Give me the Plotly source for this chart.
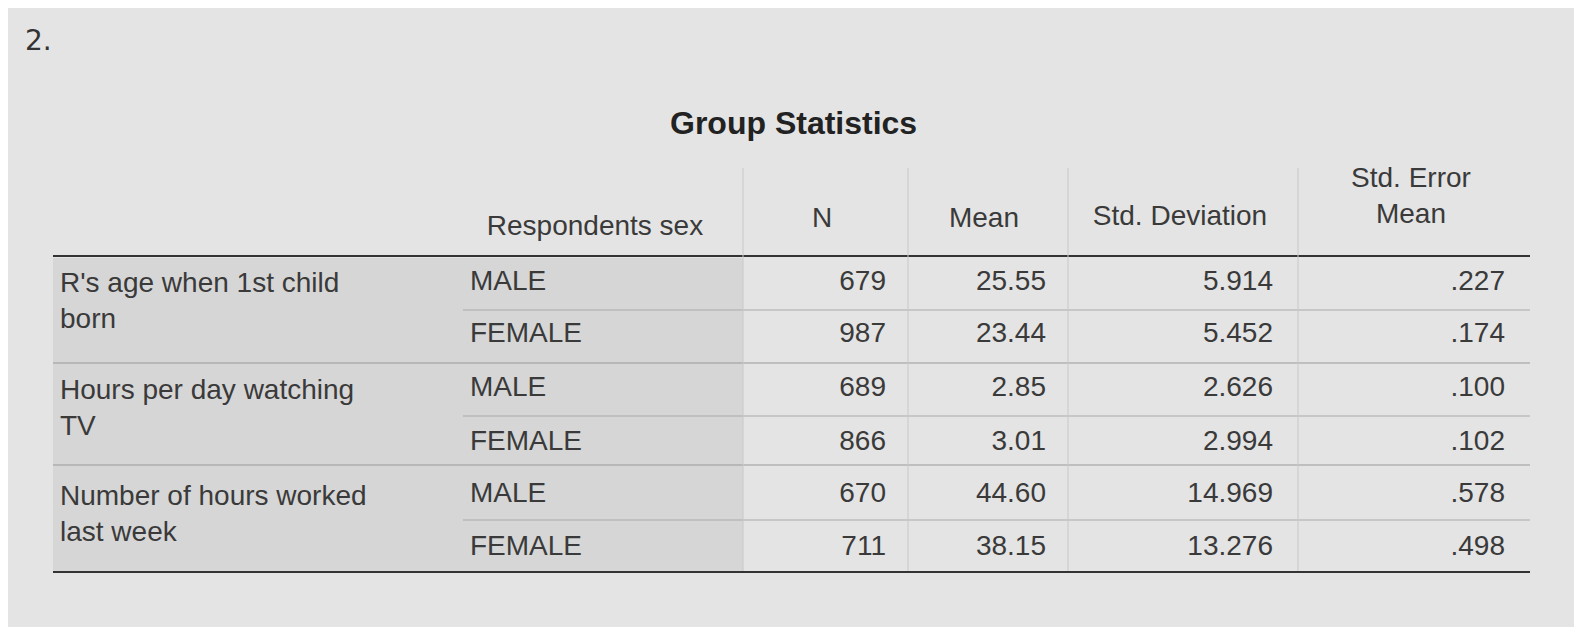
import plotly.graph_objects as go

variables = ["R's age when 1st child<br>born", "Hours per day watching<br>TV", "Number of hours worked<br>last week"]
sexes = ["MALE", "FEMALE", "MALE", "FEMALE", "MALE", "FEMALE"]
n_vals = ["679", "987", "689", "866", "670", "711"]
means = ["25.55", "23.44", "2.85", "3.01", "44.60", "38.15"]
std_devs = ["5.914", "5.452", "2.626", "2.994", "14.969", "13.276"]
se_means = [".227", ".174", ".100", ".102", ".578", ".498"]
headers = ["Respondents sex", "N", "Mean", "Std. Deviation", "Std. Error<br>Mean"]

row_y = [275, 327, 381, 435, 487, 540]
grp_y = [295, 402, 508]
txt = dict(family="Liberation Sans, Arial", size=28, color="#3a3a3a")

fig = go.Figure()
shapes = [
    dict(type="rect", x0=45, x1=735, y0=250, y1=563, fillcolor="#d6d6d6", line_width=0, layer="below"),
    dict(type="line", x0=45, x1=1522, y0=248, y1=248, line=dict(color="#333", width=2)),
    dict(type="line", x0=45, x1=1522, y0=564, y1=564, line=dict(color="#333", width=2)),
]
for y in [355, 457]:
    shapes.append(dict(type="line", x0=45, x1=1522, y0=y, y1=y, line=dict(color="#999", width=1)))
for y in [302, 408, 512]:
    shapes.append(dict(type="line", x0=455, x1=1522, y0=y, y1=y, line=dict(color="#aaa", width=1)))
for x in [735, 900, 1060, 1290]:
    shapes.append(dict(type="line", x0=x, x1=x, y0=160, y1=563, line=dict(color="#c8c8c8", width=1)))

fig.add_trace(go.Scatter(x=[52] * 3, y=grp_y, text=variables, mode="text",
                         textposition="middle right", textfont=txt))
fig.add_trace(go.Scatter(x=[462] * 6, y=row_y, text=sexes, mode="text",
                         textposition="middle right", textfont=txt))
for col, xr in [(n_vals, 878), (means, 1038), (std_devs, 1265), (se_means, 1497)]:
    fig.add_trace(go.Scatter(x=[xr] * 6, y=row_y, text=col, mode="text",
                             textposition="middle left", textfont=txt))
fig.add_trace(go.Scatter(x=[587, 814, 976, 1172, 1403], y=[220, 212, 212, 210, 190], text=headers,
                         mode="text", textfont=txt))

fig.add_annotation(x=785, y=115, text="<b>Group Statistics</b>", showarrow=False,
                   font=dict(family="Liberation Sans, Arial", size=32, color="#222"))
fig.add_annotation(x=30, y=32, text="2.", showarrow=False,
                   font=dict(family="DejaVu Sans", size=28, color="#333"))

fig.update_layout(
    width=1582, height=627, margin=dict(l=0, r=0, t=0, b=0),
    paper_bgcolor="#e4e4e4", plot_bgcolor="#e4e4e4", showlegend=False, shapes=shapes,
    xaxis=dict(range=[0, 1582], visible=False, fixedrange=True),
    yaxis=dict(range=[627, 0], visible=False, fixedrange=True),
)
fig.write_html("out.html")
